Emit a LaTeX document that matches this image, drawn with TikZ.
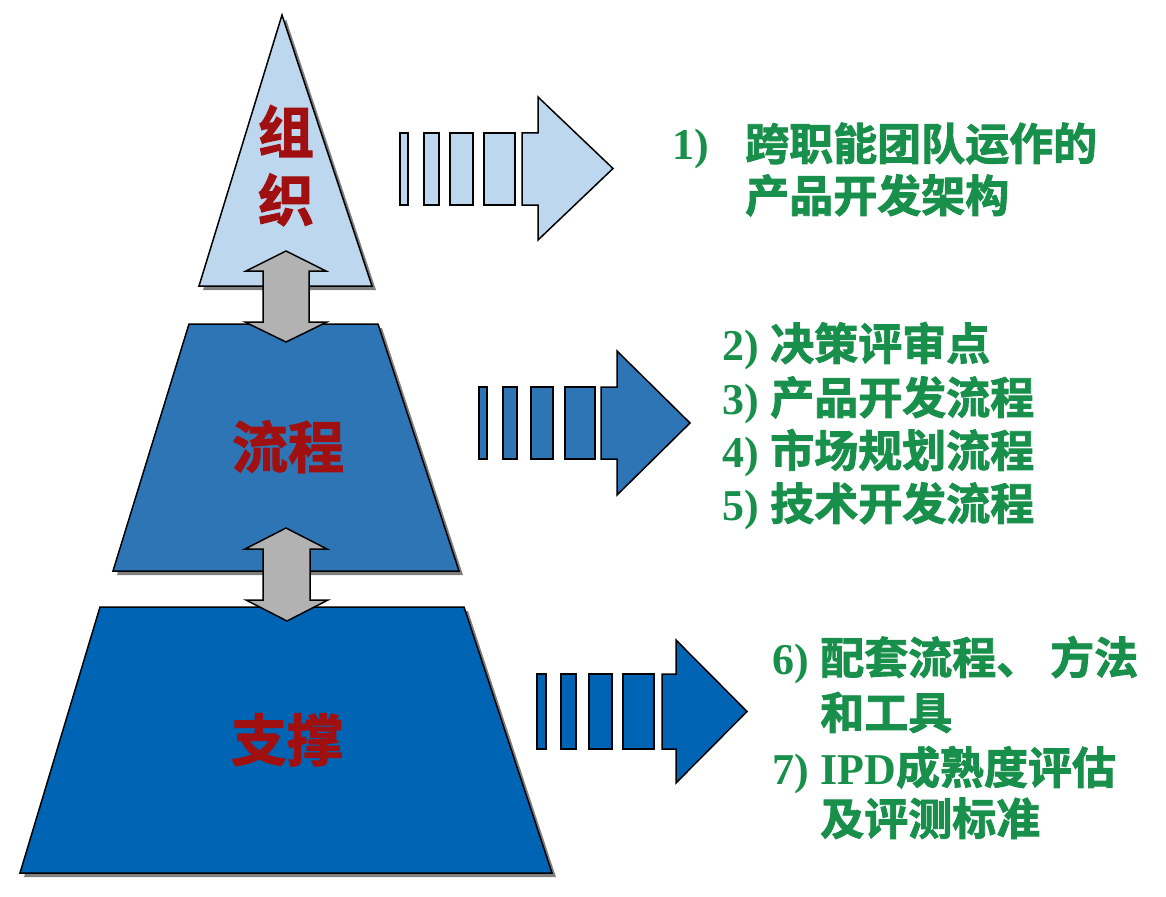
\documentclass[tikz,border=0pt]{standalone}
\usepackage{fontspec}
\newfontfamily\cjkbold[FakeBold=2]{Noto Sans CJK SC Bold}
\newfontfamily\numfont{Liberation Serif Bold}
\definecolor{lightcol}{RGB}{189,215,238}
\definecolor{midcol}{RGB}{46,117,182}
\definecolor{basecol}{RGB}{0,100,180}
\definecolor{labelcol}{RGB}{160,16,16}
\definecolor{itemcol}{RGB}{24,143,74}
\definecolor{linkcol}{RGB}{178,178,178}
\definecolor{shadowcol}{RGB}{128,128,128}
\tikzset{
  level/.style={draw=black,line width=1.5pt,line join=miter},
  shade/.style={fill=shadowcol},
  link/.style={draw=black,fill=linkcol,line width=1.5pt,line join=miter},
  levellabel/.style={anchor=base,inner sep=0pt,text=labelcol,font=\cjkbold\fontsize{56}{60}\selectfont},
  itemnum/.style={anchor=base west,inner sep=0pt,text=itemcol,font=\numfont\fontsize{44}{52}\selectfont},
  itemtext/.style={anchor=base west,inner sep=0pt,text=itemcol,font=\cjkbold\fontsize{44}{52}\selectfont},
}
\begin{document}
\begin{tikzpicture}[x=1pt,y=-1pt]
  \useasboundingbox (0,0) rectangle (1166,896);
%%
  % Node: shadows
  \fill [shade] (286,19) -- (376,290) -- (203,290) -- cycle;
  \fill [shade] (193,328) -- (382,328) -- (463,575) -- (117,575) -- cycle;
  \fill [shade] (104,611) -- (468,611) -- (556,877) -- (24,877) -- cycle;
  % Node: zuzhi
  \draw [level,fill=lightcol] (282,15) -- (372,286) -- (199,286) -- cycle;
  % Node: liucheng
  \draw [level,fill=midcol] (189,324) -- (378,324) -- (459,571) -- (113,571) -- cycle;
  % Node: zhicheng
  \draw [level,fill=basecol] (100,607) -- (464,607) -- (552,873) -- (20,873) -- cycle;
  % Edge: zuzhi <-> liucheng
  \draw [link] (286,251) -- (326,271) -- (309,271) -- (309,322) -- (327,322) -- (286,342)
    -- (245,322) -- (263,322) -- (263,271) -- (246,271) -- cycle;
  % Edge: liucheng <-> zhicheng
  \draw [link] (286,528) -- (327,549) -- (310,549) -- (310,600) -- (328,600) -- (287,621)
    -- (246,600) -- (263,600) -- (263,549) -- (245,549) -- cycle;
  % Labels
  \node [levellabel] (zu) at (286,153) {组};
  \node [levellabel] (zhi) at (286,221) {织};
  \node [levellabel] (lc) at (288,468) {流程};
  \node [levellabel] (zc) at (287,761) {支撑};
  % Edge: zuzhi -> item 1
  \foreach \a/\b in {400/408,424/439,450/473,484/515}
    \draw [level,fill=lightcol] (\a,133) rectangle (\b,205);
  \draw [level,fill=lightcol] (522,133) -- (538,133) -- (538,97) -- (613,168.5)
    -- (538,240) -- (538,205) -- (522,205) -- cycle;
  % Edge: liucheng -> items 2-5
  \foreach \a/\b in {479/487,503/517,531/553,565/595}
    \draw [level,fill=midcol] (\a,387) rectangle (\b,459);
  \draw [level,fill=midcol] (601,387) -- (617,387) -- (617,351) -- (690,423)
    -- (617,495) -- (617,459) -- (601,459) -- cycle;
  % Edge: zhicheng -> items 6-7
  \foreach \a/\b in {537/546,561/576,589/612,623/654}
    \draw [level,fill=basecol] (\a,674) rectangle (\b,749);
  \draw [level,fill=basecol] (662,674) -- (676,674) -- (676,640) -- (747,711.5)
    -- (676,783) -- (676,749) -- (662,749) -- cycle;
  % Node: items
  \node [itemnum] (n1) at (672,160) {1)};
  \node [itemtext] (t1a) at (745,160) {跨职能团队运作的};
  \node [itemtext] (t1b) at (745,212) {产品开发架构};
  \node [itemnum] (n2) at (722,360) {2)};
  \node [itemtext] (t2) at (770,360) {决策评审点};
  \node [itemnum] (n3) at (722,414) {3)};
  \node [itemtext] (t3) at (770,414) {产品开发流程};
  \node [itemnum] (n4) at (722,467) {4)};
  \node [itemtext] (t4) at (770,467) {市场规划流程};
  \node [itemnum] (n5) at (722,520) {5)};
  \node [itemtext] (t5) at (770,520) {技术开发流程};
  \node [itemnum] (n6) at (772,674) {6)};
  \node [itemtext] (t6a) at (820,674) {配套流程、\hspace{10pt}方法};
  \node [itemtext] (t6b) at (820,729) {和工具};
  \node [itemnum] (n7) at (772,784) {7)};
  \node [itemtext] (t7a) at (820,784) {{\numfont IPD}成熟度评估};
  \node [itemtext] (t7b) at (820,835) {及评测标准};
%
\end{tikzpicture}
\end{document}
